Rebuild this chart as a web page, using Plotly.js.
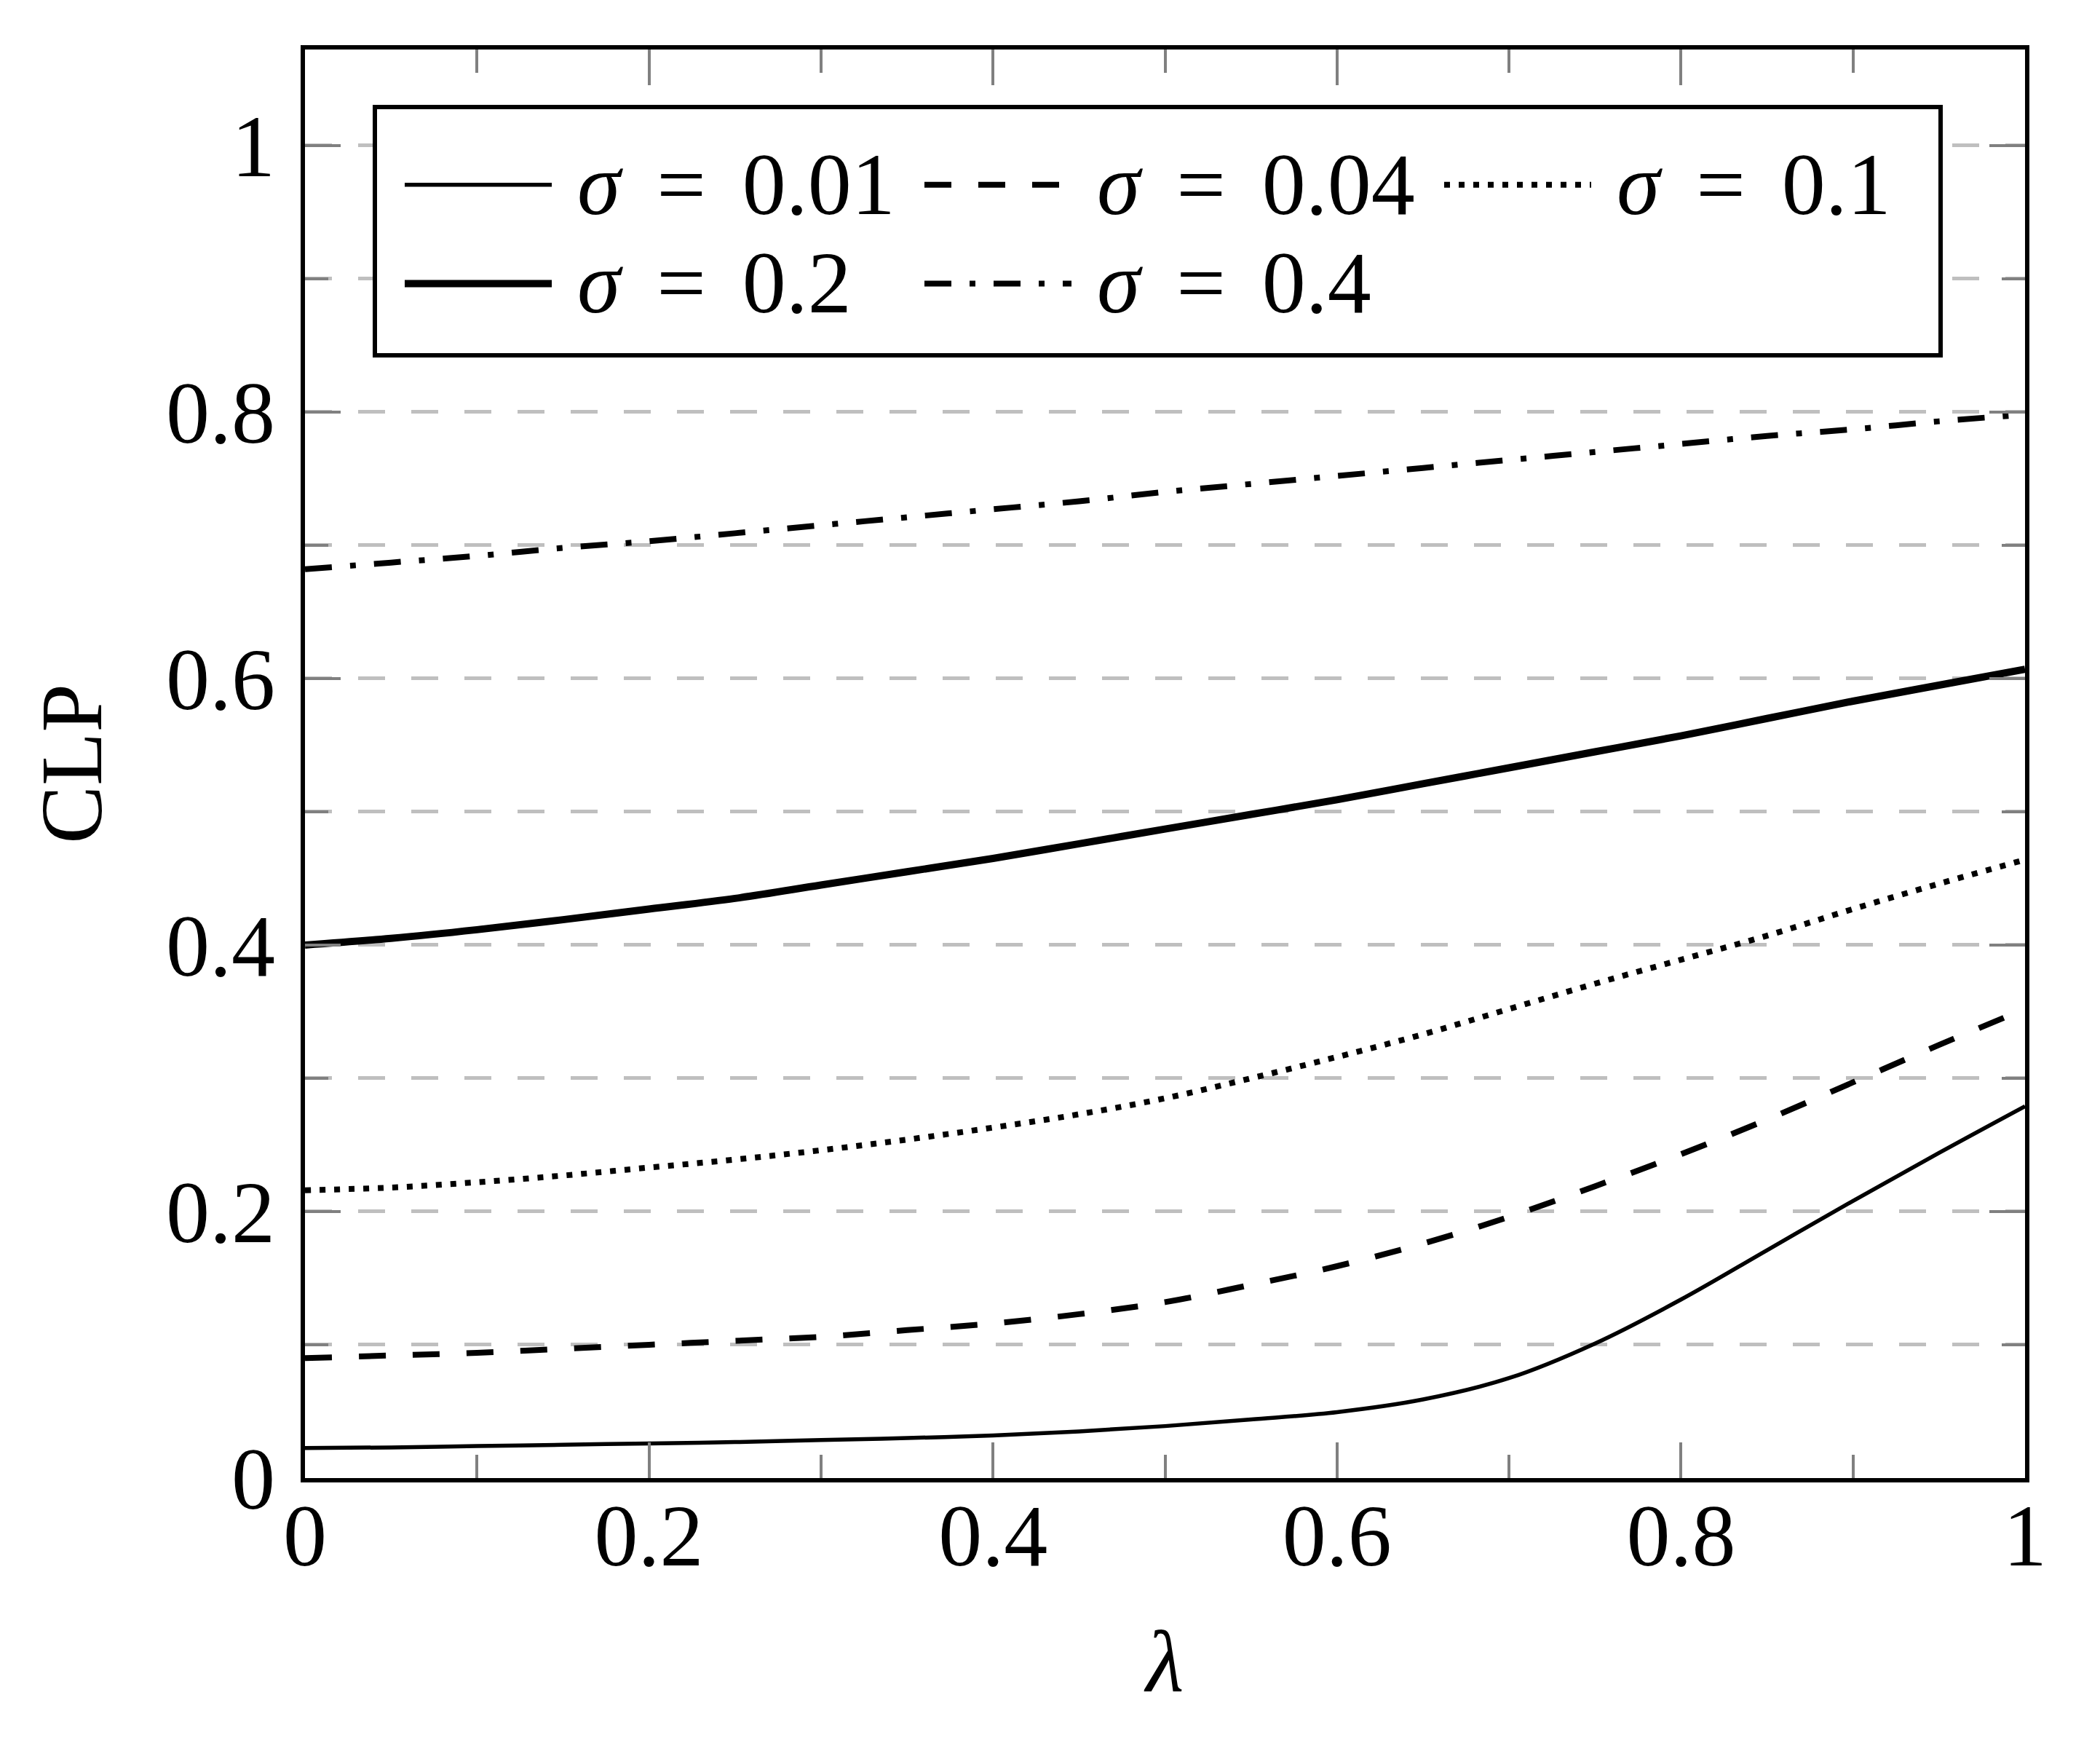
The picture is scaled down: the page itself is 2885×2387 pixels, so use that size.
<!DOCTYPE html>
<html>
<head>
<meta charset="utf-8">
<script src="https://cdn.plot.ly/plotly-3.0.1.min.js"></script>
<style>html,body{margin:0;padding:0;background:#ffffff;}</style>
</head>
<body>
<div id="chart" style="width:2885px;height:2387px;"></div>
<script>
// ---- data ----
const lambda = [0, 0.05, 0.1, 0.15, 0.2, 0.25, 0.3, 0.35, 0.4, 0.45, 0.5,
                0.55, 0.6, 0.65, 0.7, 0.75, 0.8, 0.85, 0.9, 0.95, 1.0];

const clpSigma001 = [0.0225, 0.023, 0.024, 0.025, 0.026, 0.027, 0.0285, 0.030, 0.032, 0.035, 0.039,
                     0.044, 0.0495, 0.059, 0.075, 0.101, 0.134, 0.171, 0.208, 0.244, 0.279];
const clpSigma004 = [0.090, 0.092, 0.094, 0.097, 0.100, 0.103, 0.106, 0.111, 0.116, 0.123, 0.132,
                     0.145, 0.159, 0.176, 0.196, 0.219, 0.243, 0.269, 0.297, 0.325, 0.352];
const clpSigma01  = [0.216, 0.218, 0.222, 0.227, 0.233, 0.239, 0.246, 0.254, 0.263, 0.273, 0.285,
                     0.300, 0.316, 0.333, 0.352, 0.371, 0.389, 0.407, 0.427, 0.446, 0.464];
const clpSigma02  = [0.400, 0.405, 0.4115, 0.419, 0.427, 0.435, 0.445, 0.455, 0.465, 0.476, 0.487,
                     0.498, 0.509, 0.521, 0.533, 0.545, 0.557, 0.570, 0.583, 0.595, 0.607];
const clpSigma04  = [0.682, 0.687, 0.692, 0.698, 0.703, 0.709, 0.715, 0.721, 0.727, 0.733, 0.740,
                     0.746, 0.752, 0.758, 0.764, 0.770, 0.776, 0.782, 0.787, 0.793, 0.798];

const sigmaLabels = ['0.01', '0.04', '0.1', '0.2', '0.4'];
const seriesValues = [clpSigma001, clpSigma004, clpSigma01, clpSigma02, clpSigma04];

const xTickLabels = ['0', '0.2', '0.4', '0.6', '0.8', '1'];
const yTickLabels = ['0', '0.2', '0.4', '0.6', '0.8', '1'];
const tickValues = [0, 0.2, 0.4, 0.6, 0.8, 1];

// ---- styles ----
const lineStyles = [
  {width: 5.5, dash: 'solid'},
  {width: 8, dash: '37px,37px'},
  {width: 8, dash: '8px,12px'},
  {width: 10, dash: 'solid'},
  {width: 8, dash: '37px,25px,8px,25px'}
];

const FONT = 'Liberation Serif, Times New Roman, serif';
const NB = '\u00a0';
const SP = ' \u2006';

const traces = seriesValues.map((vals, i) => ({
  type: 'scatter',
  mode: 'lines',
  x: lambda,
  y: vals,
  name: '<span style="font-size:120px">' + NB + '<i>σ</i>' + SP + '=' + SP + sigmaLabels[i] + '</span>',
  line: {color: '#000000', width: lineStyles[i].width, dash: lineStyles[i].dash, shape: 'spline', smoothing: 1.0},
  hoverinfo: 'skip'
}));

const L = 419, R = 2782, T = 68, B = 2030;
const W = R - L, H = B - T;
const px = v => (v - L) / W;
const py = v => (B - v) / H;

const tickCommon = {
  ticks: 'inside', ticklen: 49, tickwidth: 4, tickcolor: '#808080',
  showline: true, linecolor: '#000000', linewidth: 6, mirror: 'ticks',
  zeroline: false, automargin: false,
  tickfont: {family: FONT, size: 120, color: '#000000'}
};

const layout = {
  width: 2885, height: 2387,
  paper_bgcolor: '#ffffff', plot_bgcolor: '#ffffff',
  margin: {l: L, r: 2885 - R, t: T, b: 2387 - B, pad: 0},
  showlegend: true,
  font: {family: FONT, color: '#000000'},
  xaxis: Object.assign({}, tickCommon, {
    range: [0, 1],
    tickmode: 'array', tickvals: tickValues, ticktext: xTickLabels,
    ticklabelstandoff: -30,
    minor: {dtick: 0.1, tick0: 0, ticks: 'inside', ticklen: 32, tickwidth: 4, tickcolor: '#808080', showgrid: false},
    showgrid: false,
    title: {text: '<i>λ</i>', font: {family: FONT, size: 120, color: '#000000'}, standoff: 66}
  }),
  yaxis: Object.assign({}, tickCommon, {
    range: [0, 1.072],
    tickmode: 'array', tickvals: tickValues, ticktext: yTickLabels,
    ticklabelstandoff: 11,
    minor: {dtick: 0.1, tick0: 0, ticks: 'inside', ticklen: 32, tickwidth: 4, tickcolor: '#808080',
            showgrid: true, gridcolor: '#bfbfbf', gridwidth: 5, griddash: '37px,36px'},
    showgrid: true, gridcolor: '#bfbfbf', gridwidth: 5, griddash: '37px,36px',
    title: {text: 'CLP', font: {family: FONT, size: 120, color: '#000000'}, standoff: 50}
  }),
  legend: {
    orientation: 'h',
    x: px(551), xanchor: 'left',
    y: py(181), yanchor: 'top',
    bgcolor: 'rgba(0,0,0,0)', borderwidth: 0,
    itemwidth: 202,
    entrywidth: 497, entrywidthmode: 'pixels',
    font: {family: FONT, size: 102, color: '#000000'},
    traceorder: 'normal',
    itemclick: false, itemdoubleclick: false
  },
  shapes: [{
    type: 'rect', xref: 'paper', yref: 'paper', layer: 'above',
    x0: px(515), x1: px(2666), y0: py(488), y1: py(147),
    line: {color: '#000000', width: 6}, fillcolor: '#ffffff'
  }]
};

Plotly.newPlot('chart', traces, layout, {staticPlot: true, displayModeBar: false});
</script>
</body>
</html>
